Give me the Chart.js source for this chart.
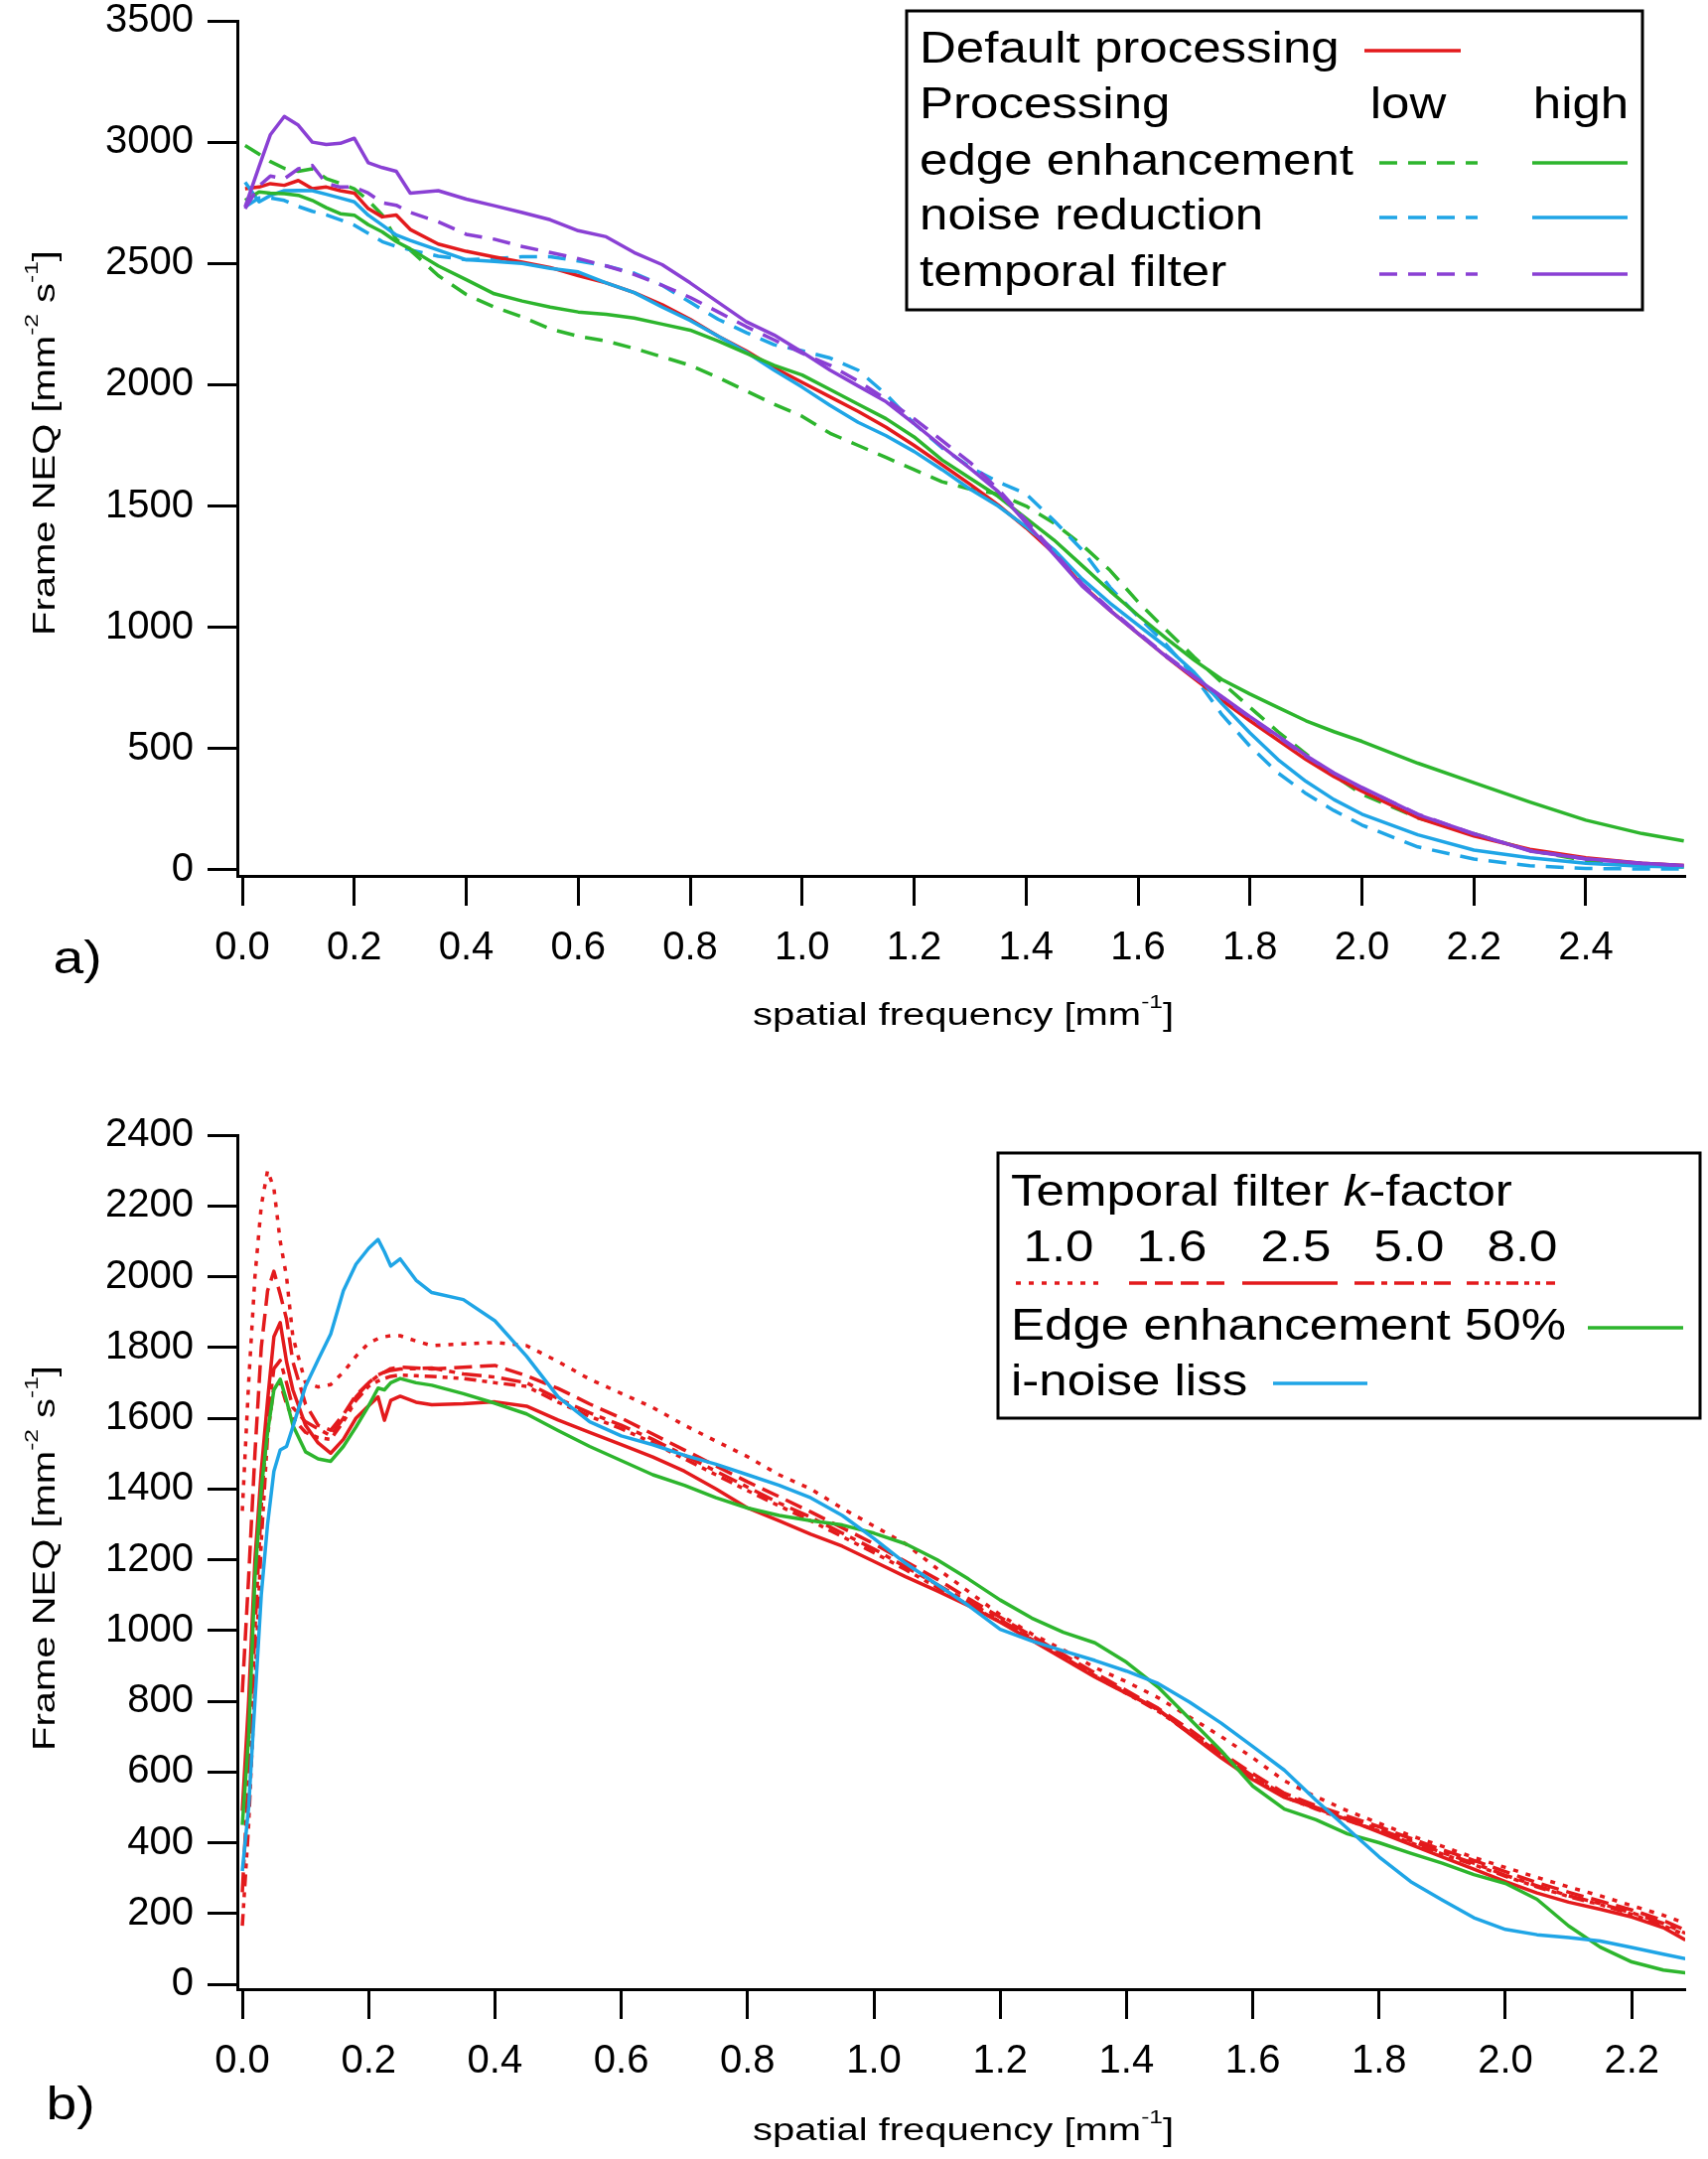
<!DOCTYPE html>
<html>
<head>
<meta charset="utf-8">
<script src="https://cdn.jsdelivr.net/npm/chart.js@4.4.0/dist/chart.umd.min.js"></script>
<style>
  html, body { margin: 0; padding: 0; background: #fff; }
  #wrap { width: 1720px; height: 2174px; position: relative; }
  canvas { display: block; }
</style>
</head>
<body>
<div id="wrap">
  <canvas id="chartA" width="1720" height="1090"></canvas>
  <canvas id="chartB" width="1720" height="1084"></canvas>
</div>
<script>
// ---------- panel a) : frame NEQ for processing settings ----------
const freqA = [0.005, 0.03, 0.05, 0.075, 0.1, 0.125, 0.15, 0.175, 0.2, 0.225, 0.25, 0.275, 0.3,
  0.35, 0.4, 0.45, 0.5, 0.55, 0.6, 0.65, 0.7, 0.75, 0.8, 0.85, 0.9, 0.95, 1.0, 1.05, 1.1, 1.15,
  1.2, 1.25, 1.3, 1.35, 1.4, 1.45, 1.5, 1.55, 1.6, 1.65, 1.7, 1.75, 1.8, 1.85, 1.9, 1.95, 2.0,
  2.1, 2.2, 2.3, 2.4, 2.5, 2.575];

const defaultProc = [2808, 2815, 2829, 2822, 2842, 2808, 2815, 2800, 2790, 2726, 2692, 2700, 2640,
  2580, 2550, 2527, 2505, 2483, 2450, 2420, 2380, 2330, 2270, 2200, 2140, 2070, 2010, 1950, 1890, 1825,
  1750, 1670, 1590, 1505, 1410, 1305, 1175, 1070, 975, 880, 790, 700, 615, 535, 455, 385, 325,
  215, 140, 85, 50, 28, 18];
const edgeLow = [2986, 2950, 2920, 2892, 2880, 2890, 2850, 2830, 2808, 2760, 2700, 2600, 2555,
  2450, 2372, 2320, 2280, 2230, 2200, 2180, 2150, 2115, 2080, 2030, 1975, 1920, 1870, 1800, 1750, 1700,
  1650, 1600, 1570, 1550, 1500, 1430, 1340, 1235, 1105, 990, 878, 772, 670, 570, 478, 390, 312,
  215, 150, 80, 38, 20, 12];
const edgeHigh = [2760, 2795, 2790, 2788, 2781, 2760, 2730, 2705, 2699, 2660, 2630, 2590, 2560,
  2490, 2433, 2375, 2345, 2320, 2300, 2290, 2275, 2250, 2225, 2180, 2130, 2080, 2040, 1980, 1920, 1860,
  1785, 1690, 1615, 1540, 1450, 1360, 1255, 1150, 1050, 955, 865, 785, 725, 670, 615, 570, 530,
  440, 360, 280, 205, 150, 120];
const noiseLow = [2733, 2770, 2770, 2760, 2735, 2715, 2700, 2680, 2658, 2624, 2590, 2570, 2556,
  2530, 2515, 2520, 2528, 2528, 2510, 2490, 2460, 2410, 2340, 2270, 2215, 2165, 2140, 2110, 2060, 1960,
  1840, 1740, 1660, 1600, 1550, 1440, 1320, 1165, 1045, 930, 800, 640, 510, 400, 315, 245, 185,
  95, 45, 17, 6, 4, 4];
const noiseHigh = [2835, 2754, 2780, 2800, 2801, 2800, 2785, 2770, 2754, 2699, 2658, 2617, 2595,
  2555, 2515, 2508, 2500, 2480, 2465, 2420, 2380, 2320, 2265, 2200, 2135, 2060, 1990, 1915, 1845, 1790,
  1725, 1650, 1570, 1500, 1415, 1320, 1200, 1100, 1010, 920, 815, 685, 565, 455, 365, 290, 230,
  145, 82, 50, 28, 15, 12];
const tempLow = [2726, 2820, 2860, 2849, 2890, 2904, 2830, 2815, 2815, 2790, 2750, 2740, 2710,
  2672, 2620, 2600, 2570, 2545, 2520, 2490, 2455, 2410, 2360, 2300, 2240, 2185, 2130, 2080, 2015, 1940,
  1860, 1770, 1680, 1570, 1440, 1310, 1180, 1075, 978, 885, 798, 712, 628, 548, 468, 398, 338,
  230, 148, 80, 45, 27, 18];
const tempHigh = [2733, 2900, 3030, 3106, 3070, 3000, 2990, 2995, 3016, 2915, 2895, 2880, 2790,
  2800, 2765, 2738, 2710, 2680, 2635, 2610, 2545, 2495, 2420, 2340, 2260, 2205, 2135, 2060, 1995, 1930,
  1840, 1745, 1655, 1560, 1430, 1300, 1170, 1070, 975, 880, 795, 715, 632, 553, 472, 400, 340,
  228, 150, 78, 46, 28, 18];

const xTicksA = [0, 0.2, 0.4, 0.6, 0.8, 1.0, 1.2, 1.4, 1.6, 1.8, 2.0, 2.2, 2.4];
const yTicksA = [0, 500, 1000, 1500, 2000, 2500, 3000, 3500];

// ---------- panel b) : temporal filter k-factor ----------
const freqB = [0, 0.01, 0.02, 0.03, 0.04, 0.05, 0.06, 0.07, 0.08, 0.1, 0.12, 0.14, 0.16, 0.18, 0.2,
  0.215, 0.225, 0.235, 0.25, 0.275,
  0.3, 0.35, 0.4, 0.45, 0.5, 0.55, 0.6, 0.65, 0.7, 0.75, 0.8, 0.85, 0.9, 0.95, 1.0, 1.05, 1.1, 1.15,
  1.2, 1.25, 1.3, 1.35, 1.4, 1.45, 1.5, 1.55, 1.6, 1.65, 1.7, 1.75, 1.8, 1.85, 1.9, 1.95, 2.0, 2.05,
  2.1, 2.15, 2.2, 2.25, 2.285];

const k10 = [1338, 1700, 2000, 2200, 2300, 2250, 2100, 2000, 1830, 1700, 1688, 1695, 1730, 1775, 1812,
  1825, 1830, 1833, 1833, 1818,
  1805, 1810, 1814, 1805, 1760, 1710, 1670, 1630, 1580, 1535, 1491, 1440, 1400, 1345, 1295, 1245, 1175, 1110,
  1044, 990, 945, 895, 855, 810, 755, 700, 640, 575, 530, 490, 455, 420, 390, 358, 330, 302,
  275, 250, 222, 195, 172];
const k16 = [825, 1150, 1500, 1800, 1960, 2015, 1950, 1880, 1760, 1640, 1580, 1566, 1610, 1665, 1700,
  1722, 1730, 1740, 1744, 1742,
  1739, 1744, 1749, 1720, 1684, 1640, 1600, 1555, 1510, 1465, 1420, 1378, 1335, 1290, 1245, 1195, 1145, 1090,
  1037, 985, 932, 880, 830, 780, 720, 655, 595, 540, 505, 475, 445, 412, 380, 350, 318, 287,
  260, 235, 210, 180, 153];
const k25 = [490, 800, 1200, 1450, 1650, 1830, 1870, 1760, 1680, 1580, 1530, 1501, 1540, 1600, 1635,
  1660, 1594, 1650, 1662, 1645,
  1638, 1641, 1646, 1634, 1595, 1560, 1525, 1490, 1450, 1400, 1346, 1310, 1272, 1238, 1195, 1152, 1112, 1070,
  1023, 972, 920, 868, 822, 777, 708, 640, 578, 528, 497, 465, 430, 395, 360, 325, 290, 258,
  232, 212, 190, 160, 125];
const k50 = [260, 600, 1000, 1350, 1600, 1740, 1763, 1700, 1630, 1590, 1570, 1550, 1600, 1660, 1700,
  1720, 1730, 1735, 1739, 1740,
  1742, 1725, 1716, 1700, 1655, 1615, 1580, 1540, 1495, 1450, 1405, 1360, 1320, 1275, 1230, 1180, 1130, 1080,
  1030, 978, 925, 872, 825, 775, 712, 650, 588, 535, 500, 468, 438, 405, 372, 342, 308, 278,
  250, 228, 202, 172, 144];
const k80 = [165, 450, 850, 1250, 1550, 1690, 1700, 1640, 1600, 1560, 1545, 1540, 1590, 1650, 1690,
  1705, 1712, 1718, 1722, 1720,
  1718, 1712, 1700, 1690, 1645, 1605, 1570, 1530, 1485, 1440, 1395, 1352, 1310, 1265, 1220, 1172, 1122, 1072,
  1025, 975, 922, 870, 822, 772, 710, 646, 584, 530, 495, 463, 433, 400, 368, 338, 305, 275,
  248, 225, 198, 166, 139];
const edge50 = [450, 700, 1150, 1400, 1560, 1680, 1710, 1650, 1580, 1505, 1485, 1478, 1520, 1575, 1635,
  1685, 1680, 1700, 1712, 1700,
  1693, 1669, 1642, 1612, 1565, 1520, 1480, 1440, 1410, 1375, 1346, 1325, 1310, 1298, 1275, 1245, 1200, 1145,
  1086, 1035, 995, 965, 910, 840, 750, 660, 560, 495, 465, 425, 400, 370, 342, 310, 285, 240,
  165, 105, 63, 40, 32];
const iNoise = [320, 500, 800, 1100, 1300, 1450, 1510, 1520, 1575, 1690, 1765, 1838, 1960, 2035, 2080,
  2105, 2070, 2030, 2050, 1990,
  1955, 1935, 1875, 1775, 1660, 1590, 1550, 1525, 1495, 1470, 1440, 1410, 1375, 1325, 1260, 1190, 1130, 1070,
  1003, 970, 942, 915, 885, 850, 797, 738, 672, 605, 520, 440, 360, 290, 238, 188, 155, 140,
  132, 122, 104, 85, 72];

const xTicksB = [0, 0.2, 0.4, 0.6, 0.8, 1.0, 1.2, 1.4, 1.6, 1.8, 2.0, 2.2];
const yTicksB = [0, 200, 400, 600, 800, 1000, 1200, 1400, 1600, 1800, 2000, 2200, 2400];

const kLabels = ['1.0', '1.6', '2.5', '5.0', '8.0'];

// colours
const RED = '#e31a1c';
const GREEN = '#2db52d';
const BLUE = '#1fa5e6';
const PURPLE = '#8a40d4';
const FONT = "'Liberation Sans', Arial, Helvetica, sans-serif";

const DASH = [18, 11];
const kDash = [[5, 8], [18, 8], [], [20, 7, 6, 7], [12, 6, 5, 6, 5, 6]];

function xy(xs, ys) {
  return ys.map((v, i) => ({ x: xs[i], y: v }));
}

function line(label, xs, ys, color, dash) {
  return {
    label: label,
    data: xy(xs, ys),
    borderColor: color,
    borderWidth: 3.5,
    borderDash: dash || [],
    pointRadius: 0,
    fill: false,
    tension: 0,
    borderJoinStyle: 'round'
  };
}

// text with superscripts / italics, optionally stretched horizontally and rotated
function rich(ctx, parts, x, y, size, stretch, align, rotate) {
  ctx.save();
  ctx.fillStyle = '#000';
  ctx.textBaseline = 'middle';
  ctx.textAlign = 'left';
  const fonts = parts.map(p => (p[1] === 'it' ? 'italic ' : '') +
    (p[1] === 'sup' ? Math.round(size * 0.62) : size) + 'px ' + FONT);
  const widths = parts.map((p, i) => { ctx.font = fonts[i]; return ctx.measureText(p[0]).width; });
  const total = widths.reduce((a, b) => a + b, 0);
  ctx.translate(x, y);
  if (rotate) ctx.rotate(-Math.PI / 2);
  ctx.scale(stretch, 1);
  let cx = align === 'center' ? -total / 2 : 0;
  parts.forEach((p, i) => {
    ctx.font = fonts[i];
    ctx.fillText(p[0], cx, p[1] === 'sup' ? -size * 0.42 : 0);
    cx += widths[i];
  });
  ctx.restore();
}

function seg(ctx, x1, x2, y, color, dash) {
  ctx.save();
  ctx.strokeStyle = color;
  ctx.lineWidth = 3.5;
  ctx.setLineDash(dash || []);
  ctx.beginPath();
  ctx.moveTo(x1, y);
  ctx.lineTo(x2, y);
  ctx.stroke();
  ctx.restore();
}

const yTitle = [['Frame NEQ [mm', ''], ['-2', 'sup'], [' s', ''], ['-1', 'sup'], [']', '']];
const xTitle = [['spatial frequency [mm', ''], ['-1', 'sup'], [']', '']];

const decorA = {
  id: 'decorA',
  afterDraw(chart) {
    const ctx = chart.ctx;
    rich(ctx, yTitle, 46, 446, 31, 1.29, 'center', true);
    rich(ctx, xTitle, 970, 1023, 31, 1.29, 'center', false);
    rich(ctx, [['a)', '']], 78, 967, 46, 1.2, 'center', false);
    // legend box
    ctx.save();
    ctx.strokeStyle = '#000';
    ctx.lineWidth = 3;
    ctx.strokeRect(913, 11, 741, 301);
    ctx.restore();
    const L = 926, S = 44, ST = 1.16;
    rich(ctx, [['Default processing', '']], L, 51, S, ST, 'left');
    rich(ctx, [['Processing', '']], L, 107, S, ST, 'left');
    rich(ctx, [['low', '']], 1418, 107, S, ST, 'center');
    rich(ctx, [['high', '']], 1592, 107, S, ST, 'center');
    rich(ctx, [['edge enhancement', '']], L, 164, S, ST, 'left');
    rich(ctx, [['noise reduction', '']], L, 219, S, ST, 'left');
    rich(ctx, [['temporal filter', '']], L, 276, S, ST, 'left');
    seg(ctx, 1374, 1471, 51, RED);
    seg(ctx, 1389, 1488, 164, GREEN, DASH);
    seg(ctx, 1543, 1639, 164, GREEN);
    seg(ctx, 1389, 1488, 219, BLUE, DASH);
    seg(ctx, 1543, 1639, 219, BLUE);
    seg(ctx, 1389, 1488, 276, PURPLE, DASH);
    seg(ctx, 1543, 1639, 276, PURPLE);
  }
};

const decorB = {
  id: 'decorB',
  afterDraw(chart) {
    const ctx = chart.ctx;
    rich(ctx, yTitle, 46, 479, 31, 1.29, 'center', true);
    rich(ctx, xTitle, 970, 1056, 31, 1.29, 'center', false);
    rich(ctx, [['b)', '']], 71, 1031, 46, 1.2, 'center', false);
    ctx.save();
    ctx.strokeStyle = '#000';
    ctx.lineWidth = 3;
    ctx.strokeRect(1005, 71, 707, 267);
    ctx.restore();
    const L = 1018, S = 44, ST = 1.16;
    rich(ctx, [['Temporal filter ', ''], ['k', 'it'], ['-factor', '']], L, 112, S, ST, 'left');
    const cx = [1066, 1180, 1305, 1419, 1533];
    const segs = [[1023, 1113], [1137, 1233], [1251, 1347], [1364, 1461], [1477, 1566]];
    kLabels.forEach((t, i) => {
      rich(ctx, [[t, '']], cx[i], 168, S, ST, 'center');
      seg(ctx, segs[i][0], segs[i][1], 202, RED, kDash[i]);
    });
    rich(ctx, [['Edge enhancement 50%', '']], L, 247, S, ST, 'left');
    seg(ctx, 1599, 1695, 247, GREEN);
    rich(ctx, [['i-noise liss', '']], L, 303, S, ST, 'left');
    seg(ctx, 1282, 1377, 303, BLUE);
  }
};

function axes(xMin, xMax, yMin, yMax, xTicks, yTicks, xHeight) {
  const grid = { display: true, drawOnChartArea: false, drawTicks: true, tickLength: 30, tickWidth: 3, tickColor: '#000' };
  const border = { display: true, color: '#000', width: 3 };
  return {
    x: {
      type: 'linear', min: xMin, max: xMax,
      grid: grid, border: border,
      afterBuildTicks: s => { s.ticks = xTicks.map(v => ({ value: v })); },
      afterFit: s => { s.height = xHeight; s.paddingLeft = 0; s.paddingRight = 0; },
      ticks: {
        color: '#000', font: { size: 40, family: FONT }, padding: 19,
        maxRotation: 0, autoSkip: false,
        callback: v => Number(v).toFixed(1)
      }
    },
    y: {
      type: 'linear', min: yMin, max: yMax,
      grid: grid, border: border,
      afterBuildTicks: s => { s.ticks = yTicks.map(v => ({ value: v })); },
      afterFit: s => { s.width = 239; s.paddingTop = 0; s.paddingBottom = 0; },
      ticks: {
        color: '#000', font: { size: 40, family: FONT }, padding: 14,
        autoSkip: false,
        callback: v => String(v)
      }
    }
  };
}

const common = {
  responsive: false,
  animation: false,
  devicePixelRatio: 1,
  events: [],
  plugins: { legend: { display: false }, tooltip: { enabled: false }, title: { display: false } }
};

new Chart(document.getElementById('chartA').getContext('2d'), {
  type: 'line',
  data: {
    datasets: [
      line('temporal filter high', freqA, tempHigh, PURPLE),
      line('temporal filter low', freqA, tempLow, PURPLE, DASH),
      line('edge enhancement high', freqA, edgeHigh, GREEN),
      line('noise reduction high', freqA, noiseHigh, BLUE),
      line('Default processing', freqA, defaultProc, RED),
      line('noise reduction low', freqA, noiseLow, BLUE, DASH),
      line('edge enhancement low', freqA, edgeLow, GREEN, DASH)
    ]
  },
  options: Object.assign({}, common, {
    layout: { padding: { left: 0, top: 21, right: 23, bottom: 0 } },
    scales: axes(-0.0089, 2.5774, -24.6, 3500, xTicksA, yTicksA, 208)
  }),
  plugins: [decorA]
});

new Chart(document.getElementById('chartB').getContext('2d'), {
  type: 'line',
  data: {
    datasets: [
      line('i-noise liss', freqB, iNoise, BLUE),
      line('Edge enhancement 50%', freqB, edge50, GREEN),
      line('k 1.0', freqB, k10, RED, kDash[0]),
      line('k 1.6', freqB, k16, RED, kDash[1]),
      line('k 2.5', freqB, k25, RED, kDash[2]),
      line('k 5.0', freqB, k50, RED, kDash[3]),
      line('k 8.0', freqB, k80, RED, kDash[4])
    ]
  },
  options: Object.assign({}, common, {
    layout: { padding: { left: 0, top: 53, right: 23, bottom: 0 } },
    scales: axes(-0.0079, 2.2846, -14, 2400, xTicksB, yTicksB, 171)
  }),
  plugins: [decorB]
});
</script>
</body>
</html>
